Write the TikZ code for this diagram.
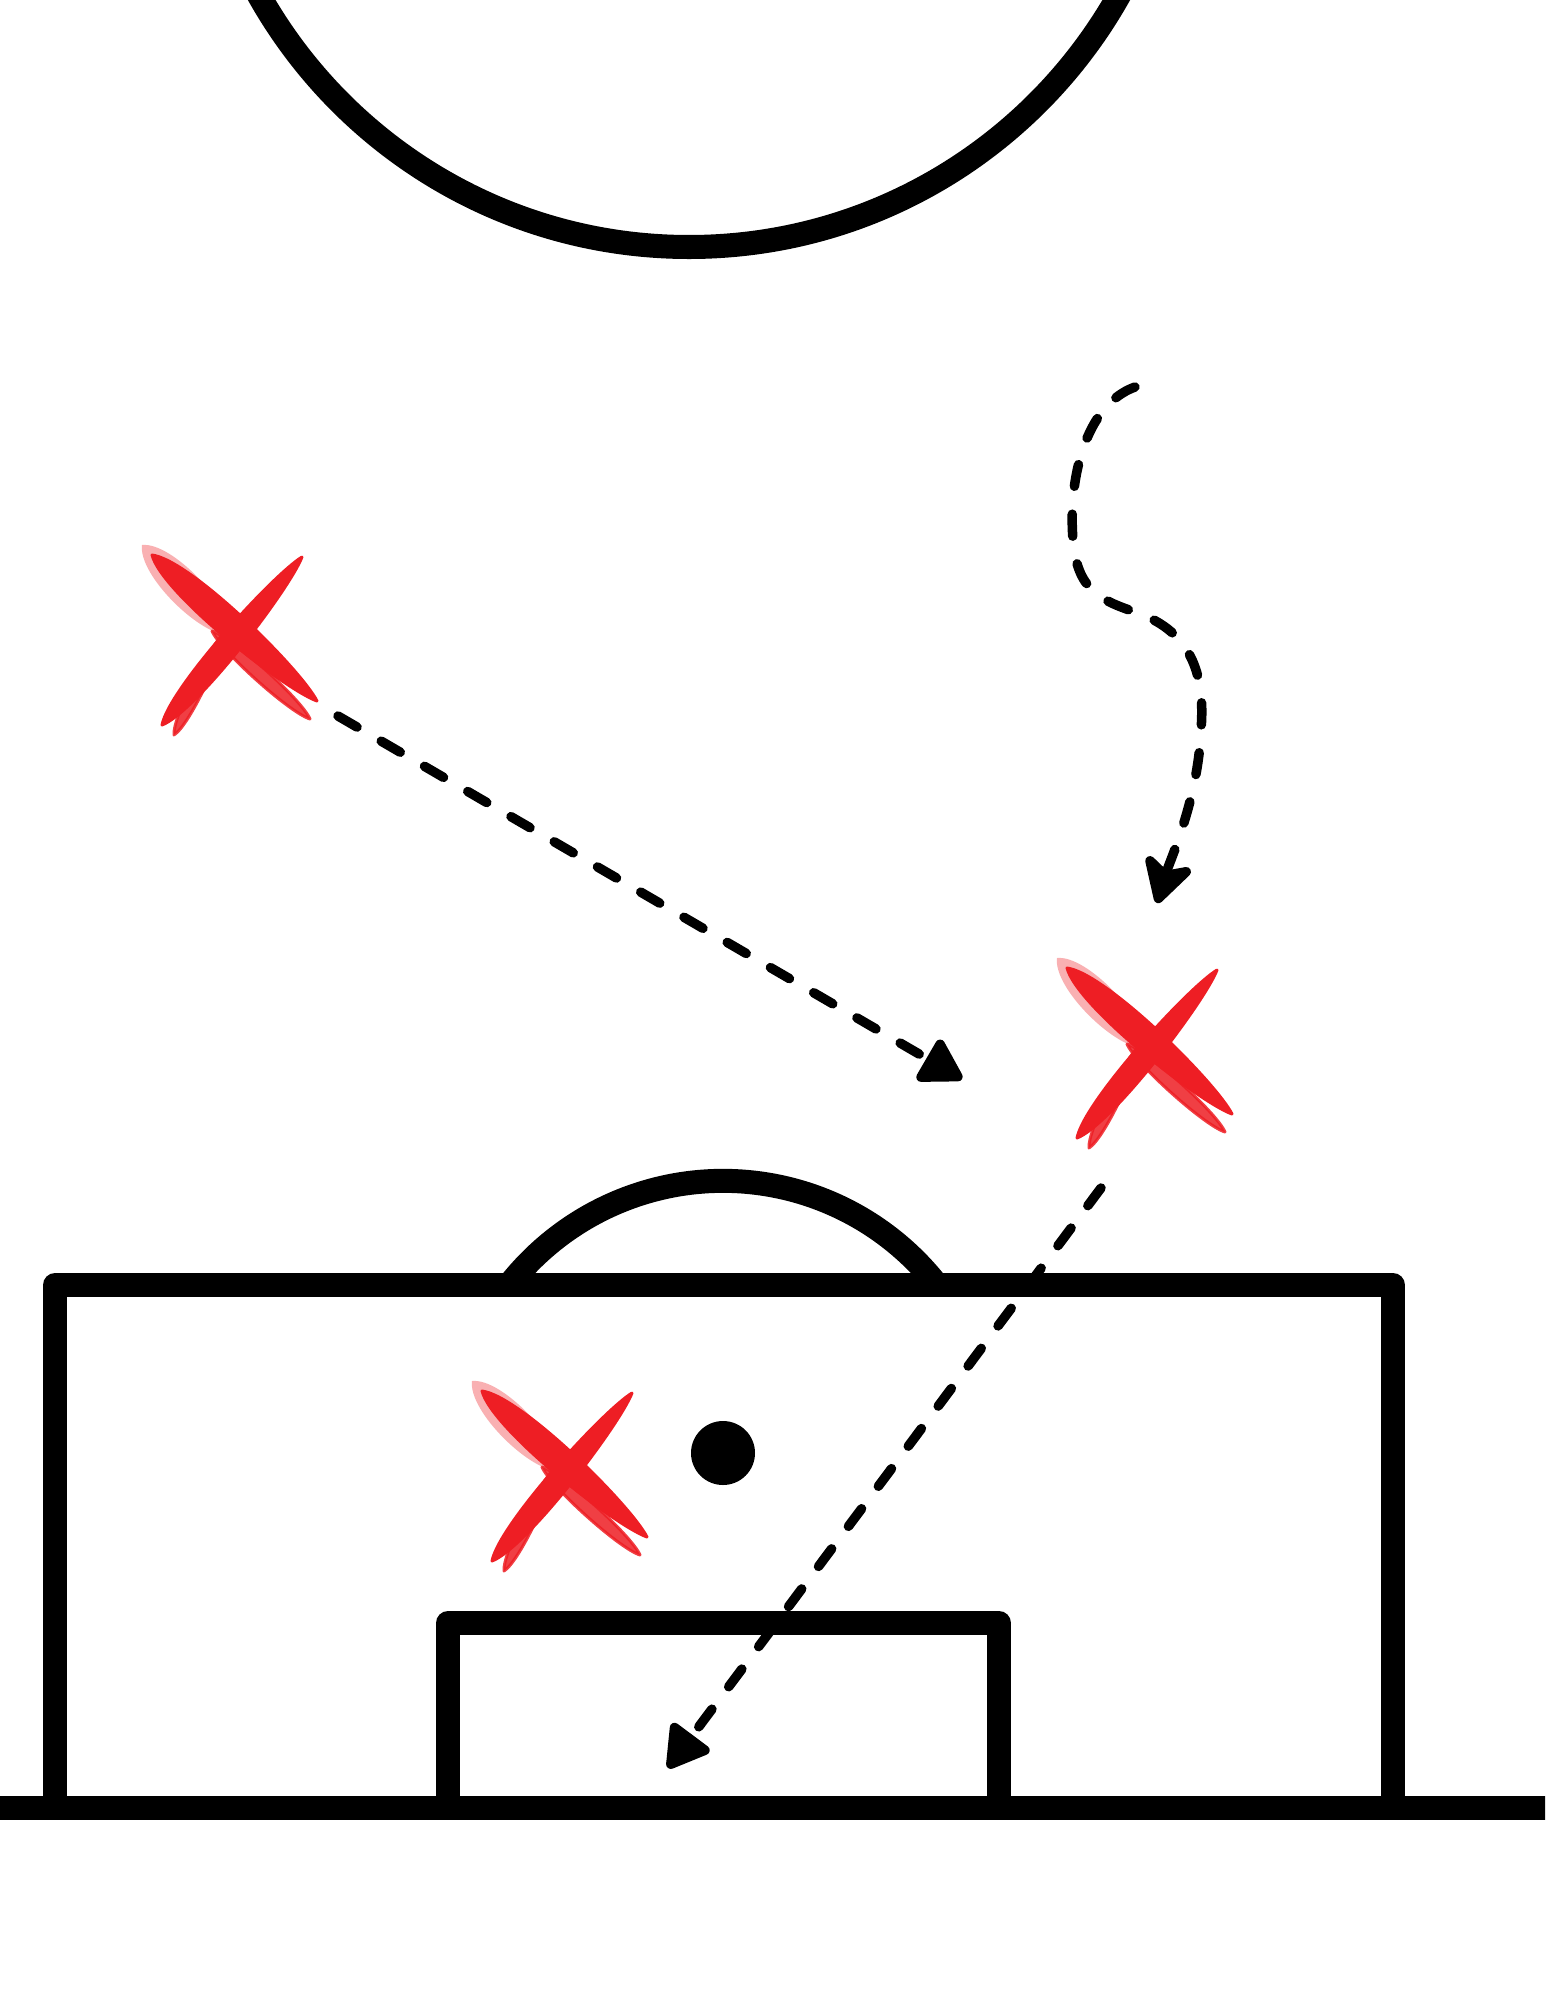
\documentclass[tikz,border=0pt]{standalone}
\usepackage{tikz}
\usetikzlibrary{arrows.meta,calc}
\definecolor{brushred}{RGB}{238,30,36}
\newcommand{\brushstroke}[4]{%
  \filldraw (#1) .. controls ($(#1)!0.15!(#2)!#3!90:(#2)$) and ($(#1)!0.85!(#2)!#4!90:(#2)$) .. (#2)
    .. controls ($(#1)!0.85!(#2)!#4!-90:(#2)$) and ($(#1)!0.15!(#2)!#3!-90:(#2)$) .. (#1) -- cycle;}
\tikzset{
	pitchline/.style={line width=2.4mm, line join=round},
	runarrow/.style={line width=0.95mm, line cap=round, dash pattern=on 2.2mm off 2.8mm},
	tip/.style={-{Triangle[length=4.6mm, width=5.2mm, round]}},
	curvetip/.style={-{Stealth[length=5.4mm, width=6mm, inset=1.5mm, round]}},
	pics/playerx/.style={code={
		\begin{scope}[fill=brushred, draw=brushred, line width=0.3mm, line join=round]
			\begin{scope}[fill opacity=0.35, draw opacity=0]
				\brushstroke{-78,-92}{10,-2}{2.4mm}{2.2mm}
			\end{scope}
			\brushstroke{-68,-82}{97,64}{2.2mm}{1.3mm}
			\brushstroke{82,-80}{-58,88}{1.1mm}{1.8mm}
			\begin{scope}[fill opacity=0.85, draw opacity=0.85]
				\brushstroke{-8,-6}{90,82}{0.9mm}{0.9mm}
				\brushstroke{5,-5}{-46,98}{0.7mm}{1mm}
			\end{scope}
		\end{scope}
	}}
}

\begin{document}
\begin{tikzpicture}[x=0.01cm, y=-0.01cm]
	\clip (0,0) rectangle (1545,2000);
	\fill[white] (0,0) rectangle (1545,2000);

	\coordinate (centre) at (689,-246);
	\coordinate (spot) at (723,1453);

	\draw[pitchline] (centre) circle[radius=493];
	\draw[pitchline] (-20,1808) -- (1565,1808);
	\draw[pitchline] (55,1808) -- (55,1285) -- (1393,1285) -- (1393,1808);
	\draw[pitchline] (448,1808) -- (448,1623) -- (999,1623) -- (999,1808);
	\draw[pitchline] ($(spot)+(-214,-168)$) arc[start angle=-141.9, end angle=-38.1, radius=272];
	\fill (spot) circle[radius=32];

	\pic (wide) at (220,637) {playerx};
	\pic (striker) at (1135,1050) {playerx};
	\pic (keeper) at (550,1473) {playerx};

	\coordinate (pass1) at (338,716);
	\coordinate (space1) at (962,1079);
	\coordinate (runstart) at (1135,387);
	\coordinate (runend) at (1157,903);
	\coordinate (shot1) at (1101,1188);
	\coordinate (goal1) at (668,1768);

	\draw[runarrow, tip] (pass1) -- (space1);
	\draw[runarrow, curvetip] (runstart) .. controls (1085,405) and (1068,480) .. (1073,540)
		.. controls (1077,590) and (1100,600) .. (1135,612)
		.. controls (1195,632) and (1205,680) .. (1201,730)
		.. controls (1198,800) and (1170,860) .. (runend);
	\draw[runarrow, tip] (shot1) -- (goal1);
\end{tikzpicture}
\end{document}
